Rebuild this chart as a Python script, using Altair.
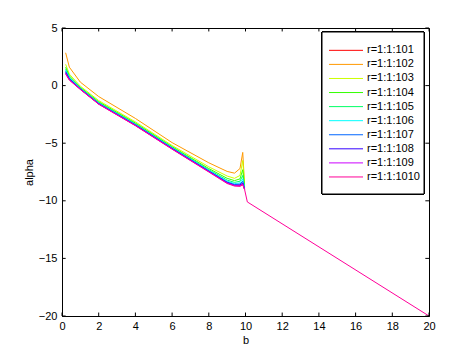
import altair as alt
import pandas as pd

# ---- data ----
b_head = [0.2, 0.4, 1, 2, 4, 6, 8, 9, 9.4, 9.7, 9.85, 9.95]
b_tail = [10.1, 20]
alpha_tail = [-10.1, -20.0]

labels = ["r=1:1:101", "r=1:1:102", "r=1:1:103", "r=1:1:104", "r=1:1:105",
          "r=1:1:106", "r=1:1:107", "r=1:1:108", "r=1:1:109", "r=1:1:1010"]
colors = ["#ff0000", "#ff9900", "#ccff00", "#33ff00", "#00ff66",
          "#00ffff", "#0066ff", "#3300ff", "#cc00ff", "#ff0099"]

alpha_101 = [1.10, 0.54, -0.31, -1.59, -3.45, -5.48, -7.45, -8.44, -8.66, -8.66, -8.50, -9.00]
alpha_102 = [2.85, 1.60, 0.30, -0.95, -2.85, -4.95, -6.70, -7.45, -7.60, -7.20, -5.80, -8.60]
alpha_103 = [1.85, 1.00, -0.05, -1.30, -3.15, -5.20, -7.05, -7.85, -8.05, -7.80, -6.50, -8.70]
alpha_104 = [1.60, 0.85, -0.15, -1.40, -3.25, -5.30, -7.20, -8.05, -8.25, -8.10, -7.30, -8.80]
alpha_105 = [1.45, 0.75, -0.20, -1.47, -3.32, -5.36, -7.30, -8.20, -8.40, -8.30, -7.80, -8.85]
alpha_106 = [1.35, 0.68, -0.25, -1.52, -3.37, -5.40, -7.36, -8.30, -8.50, -8.45, -8.10, -8.90]
alpha_107 = [1.25, 0.62, -0.28, -1.55, -3.40, -5.44, -7.40, -8.37, -8.58, -8.55, -8.30, -8.95]
alpha_108 = [1.15, 0.56, -0.30, -1.58, -3.43, -5.47, -7.44, -8.42, -8.64, -8.63, -8.45, -9.00]
alpha_109 = [1.05, 0.50, -0.32, -1.60, -3.46, -5.50, -7.47, -8.46, -8.68, -8.70, -8.55, -9.00]
alpha_1010 = [1.00, 0.47, -0.34, -1.62, -3.48, -5.52, -7.50, -8.50, -8.72, -8.75, -8.62, -9.02]

series = [alpha_101, alpha_102, alpha_103, alpha_104, alpha_105,
          alpha_106, alpha_107, alpha_108, alpha_109, alpha_1010]

x_ticks = [0, 2, 4, 6, 8, 10, 12, 14, 16, 18, 20]
y_ticks = [-20, -15, -10, -5, 0, 5]

keys = ["s%02d" % k for k in range(len(labels))]

rows = []
n = len(labels)
for i, (key, lab, vals) in enumerate(zip(keys, labels, series)):
    bb = list(b_head)
    aa = list(vals)
    if i == n - 1:
        # the common tail is covered by the last-drawn series
        bb += b_tail
        aa += alpha_tail
    for bv, av in zip(bb, aa):
        rows.append({"b": bv, "alpha": av, "series": lab, "key": key})
df = pd.DataFrame(rows)
leg = pd.DataFrame({"series": labels, "key": keys})

FONT = "Liberation Sans"
xs = alt.Scale(domain=[0, 20], nice=False, zero=False)
ys = alt.Scale(domain=[-20, 5], nice=False, zero=False)
cs = alt.Scale(domain=keys, range=colors)

xa = alt.Axis(values=x_ticks, tickSize=0, labelPadding=4, titlePadding=3,
              labelOverlap=False, labelFlush=False, tickCount=11,
              domainColor="black", labelColor="black", titleColor="black")
ya = alt.Axis(values=y_ticks, tickSize=0, labelPadding=5, titlePadding=4,
              labelOverlap=False, labelFlush=False,
              domainColor="black", labelColor="black", titleColor="black")

lines = alt.Chart(df).mark_line(strokeWidth=1, clip=True).encode(
    x=alt.X("b:Q", scale=xs, title="b", axis=xa),
    y=alt.Y("alpha:Q", scale=ys, title="alpha", axis=ya),
    color=alt.Color("key:N", scale=cs, legend=None),
)

# inward tick marks on all four sides
xt = pd.DataFrame({"b": x_ticks, "lo": [-20] * len(x_ticks), "lo2": [-19.7] * len(x_ticks),
                   "hi": [5] * len(x_ticks), "hi2": [4.7] * len(x_ticks)})
yt = pd.DataFrame({"alpha": y_ticks, "l": [0] * len(y_ticks), "l2": [0.2] * len(y_ticks),
                   "r": [20] * len(y_ticks), "r2": [19.8] * len(y_ticks)})

tb = alt.Chart(xt).mark_rule(color="black", strokeWidth=1).encode(
    x=alt.X("b:Q", scale=xs, title="b", axis=xa), y=alt.Y("lo:Q", scale=ys, axis=None), y2="lo2:Q")
tt = alt.Chart(xt).mark_rule(color="black", strokeWidth=1).encode(
    x=alt.X("b:Q", scale=xs, title="b", axis=xa), y=alt.Y("hi:Q", scale=ys, axis=None), y2="hi2:Q")
tl = alt.Chart(yt).mark_rule(color="black", strokeWidth=1).encode(
    y=alt.Y("alpha:Q", scale=ys, axis=None), x=alt.X("l:Q", scale=xs, title="b", axis=xa), x2="l2:Q")
tr = alt.Chart(yt).mark_rule(color="black", strokeWidth=1).encode(
    y=alt.Y("alpha:Q", scale=ys, axis=None), x=alt.X("r:Q", scale=xs, title="b", axis=xa), x2="r2:Q")

# legend box drawn by hand (MATLAB style)
box = alt.Chart(leg).mark_rect(fill="white", stroke="black", strokeWidth=1).encode(
    x=alt.value(260), x2=alt.value(362), y=alt.value(4), y2=alt.value(166))
ly = alt.Y("series:N", scale=alt.Scale(domain=labels, range=[15.3, 156]), axis=None)
lsym = alt.Chart(leg).mark_rule(strokeWidth=1).encode(
    x=alt.value(267), x2=alt.value(301), y=ly,
    color=alt.Color("key:N", scale=cs, legend=None))
ltxt = alt.Chart(leg).mark_text(align="left", baseline="middle", font=FONT,
                                fontSize=11, color="black").encode(
    x=alt.value(305), y=ly, text="series:N")
legend = alt.layer(box, lsym, ltxt)

chart = alt.layer(lines, tb, tt, tl, tr, legend).resolve_scale(y="independent").properties(
    width=367, height=288,
    autosize=alt.AutoSizeParams(type="none"),
    padding={"left": 62, "top": 28, "right": 45, "bottom": 39},
    background="white",
).configure_view(
    stroke="black", strokeWidth=1
).configure_axis(
    grid=False, labelFont=FONT, titleFont=FONT, labelFontSize=11,
    titleFontSize=11, titleFontWeight="normal", domainWidth=1,
    labelOverlap=False, labelFlush=False,
)

chart.save("out.html", embed_options={"renderer": "svg", "actions": False})
